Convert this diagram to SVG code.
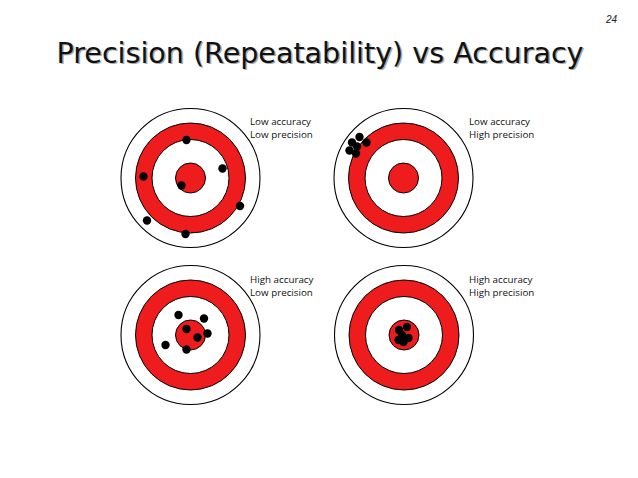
<svg xmlns="http://www.w3.org/2000/svg" width="638" height="478" viewBox="0 0 638 478">
<style>
.ring{stroke:#000;stroke-width:1}
.outer{fill:#fff;stroke:#000;stroke-width:1.1}
.red{fill:#ee1c1c;stroke:#000;stroke-width:1}
.white{fill:#fff;stroke:#000;stroke-width:1}
.dot{fill:#000}
.lbl{font-family:"Open Sans","Liberation Sans",sans-serif;font-size:9.8px;fill:#111}
.title{font-family:"DejaVu Sans","Liberation Sans",sans-serif;font-size:28px}
</style>
<defs>
<g id="target">
<circle class="outer" r="69.5"/>
<circle class="red" r="55"/>
<circle class="white" r="38.5"/>
<circle class="red" r="15"/>
</g>
</defs>
<rect width="638" height="478" fill="#fff"/>
<text x="606" y="23" font-family="Liberation Sans,sans-serif" font-size="10" font-style="italic" fill="#222">24</text>
<g id="title">
<text class="title" x="58" y="64" fill="#aaa" textLength="527" lengthAdjust="spacingAndGlyphs">Precision (Repeatability) vs Accuracy</text>
<text class="title" x="56.5" y="62.5" fill="#111" textLength="527" lengthAdjust="spacingAndGlyphs">Precision (Repeatability) vs Accuracy</text>
</g>
<g id="target-lalp">
<use href="#target" x="190.5" y="178"/>
<circle class="dot" cx="186.5" cy="140" r="4.2"/>
<circle class="dot" cx="222.5" cy="168.5" r="4.2"/>
<circle class="dot" cx="143.5" cy="176.5" r="4.2"/>
<circle class="dot" cx="181.5" cy="185.5" r="4.2"/>
<circle class="dot" cx="240" cy="206" r="4.2"/>
<circle class="dot" cx="147" cy="220.5" r="4.2"/>
<circle class="dot" cx="185.5" cy="234" r="4.2"/>
<text class="lbl" x="250" y="125">Low accuracy</text>
<text class="lbl" x="250" y="137.5">Low precision</text>
</g>
<g id="target-lahp">
<use href="#target" x="403.5" y="178"/>
<circle class="dot" cx="359.5" cy="137" r="4.2"/>
<circle class="dot" cx="366.5" cy="142.5" r="4.2"/>
<circle class="dot" cx="352" cy="142.5" r="4.2"/>
<circle class="dot" cx="349.5" cy="150.5" r="4.2"/>
<circle class="dot" cx="356" cy="153.5" r="4.2"/>
<circle class="dot" cx="357" cy="146.5" r="4.2"/>
<text class="lbl" x="469" y="125">Low accuracy</text>
<text class="lbl" x="469" y="137.5">High precision</text>
</g>
<g id="target-halp">
<use href="#target" x="190.5" y="335"/>
<circle class="dot" cx="178.5" cy="315" r="4.2"/>
<circle class="dot" cx="204" cy="318.5" r="4.2"/>
<circle class="dot" cx="186.5" cy="329" r="4.2"/>
<circle class="dot" cx="207.5" cy="333.5" r="4.2"/>
<circle class="dot" cx="197.5" cy="337.5" r="4.2"/>
<circle class="dot" cx="165.5" cy="345" r="4.2"/>
<circle class="dot" cx="186.5" cy="349.5" r="4.2"/>
<text class="lbl" x="250" y="283">High accuracy</text>
<text class="lbl" x="250" y="295.5">Low precision</text>
</g>
<g id="target-hahp">
<use href="#target" x="404" y="335"/>
<circle class="dot" cx="399" cy="330" r="4.2"/>
<circle class="dot" cx="407" cy="327" r="4.2"/>
<circle class="dot" cx="402" cy="335" r="4.2"/>
<circle class="dot" cx="408.5" cy="338" r="4.2"/>
<circle class="dot" cx="398.5" cy="340" r="4.2"/>
<circle class="dot" cx="403.5" cy="342" r="4.2"/>
<text class="lbl" x="469" y="283">High accuracy</text>
<text class="lbl" x="469" y="295.5">High precision</text>
</g>
<g id="connectors"></g>
</svg>
